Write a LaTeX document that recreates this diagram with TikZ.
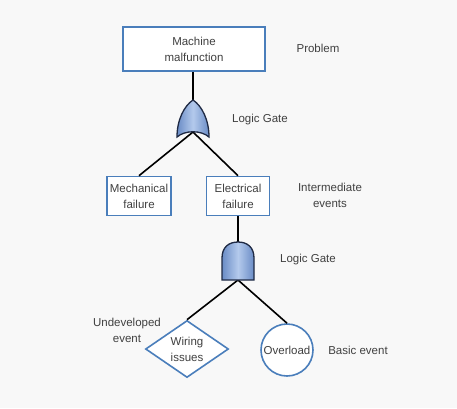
\documentclass[tikz,border=0pt]{standalone}
\usepackage{fontspec}
\setmainfont{Liberation Sans}
\usetikzlibrary{shapes.geometric}
\definecolor{bg}{HTML}{F8F8F8}
\definecolor{boxc}{HTML}{4A7EBB}
\definecolor{txt}{HTML}{404040}
\definecolor{gateline}{HTML}{1F2A44}
\definecolor{gatelight}{HTML}{B4CAEC}
\definecolor{gatedark}{HTML}{6A8CC6}
\begin{document}
\begin{tikzpicture}[x=1pt,y=-1pt,
  every node/.style={font=\fontsize{11.5}{16}\selectfont, text=txt},
  evbox/.style={draw=boxc, line width=1.6pt, fill=white, align=center, inner sep=0pt},
  lbl/.style={align=center, inner sep=0pt},
  conn/.style={draw=black, line width=1.6pt},
  gatestyle/.style={draw=gateline, line width=1.3pt, left color=gatedark, right color=gatedark, middle color=gatelight}
]
\useasboundingbox[fill=bg] (0,0) rectangle (457,408);

% nodes
\node[evbox, minimum width=142pt, minimum height=44pt] (top) at (194,49) {Machine\\malfunction};
\node[lbl] (prob) at (318,48) {Problem};

\coordinate (orTop) at (193,100);
\coordinate (orBot) at (193,132);
\node[lbl] (lg1) at (260,120) {Logic Gate};

\node[evbox, minimum width=64pt, minimum height=39pt] (mech) at (139,196) {Mechanical\\failure};
\node[evbox, minimum width=63pt, minimum height=39pt] (elec) at (238,196) {Electrical\\failure};
\node[lbl] (inter) at (330,195) {Intermediate\\events};

\coordinate (andTop) at (238,242);
\coordinate (andBot) at (238,280);
\node[lbl] (lg2) at (308,260) {Logic Gate};

\node[diamond, draw=boxc, line width=1.6pt, fill=white, minimum width=83pt, minimum height=54pt, inner sep=0pt, align=center] (wire) at (187,349) {Wiring\\issues};
\node[circle, draw=boxc, line width=1.6pt, fill=white, minimum size=52pt, inner sep=0pt] (over) at (287,350) {Overload};
\node[lbl] (undev) at (127,330) {Undeveloped\\event};
\node[lbl] (basic) at (358,350) {Basic event};

% connectors
\draw[conn] (top.south -| orTop) -- (orTop);
\draw[conn] (orBot) -- (mech.north);
\draw[conn] (orBot) -- (elec.north);
\draw[conn] (elec.south) -- (andTop);
\draw[conn] (andBot) -- (wire.north);
\draw[conn] (andBot) -- (over.north);

% OR gate
\path[gatestyle] (177,137) .. controls (177,120) and (184,106) .. (orTop)
  .. controls (202,106) and (209,120) .. (209,137)
  .. controls (201,130) and (185,130) .. (177,137) -- cycle;

% AND gate
\path[gatestyle] (222,280) -- (222,258) .. controls (222,247) and (229,242) .. (andTop)
  .. controls (247,242) and (254,247) .. (254,258) -- (254,280) -- cycle;

\end{tikzpicture}
\end{document}
